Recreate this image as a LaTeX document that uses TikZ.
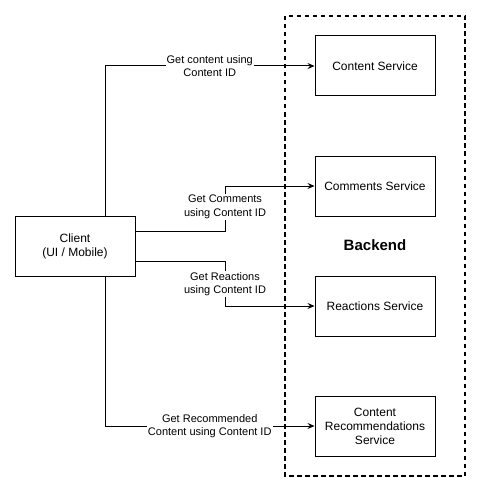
\documentclass[tikz,border=0pt]{standalone}
\usepackage{fontspec}
\setmainfont{Liberation Sans}
\usetikzlibrary{arrows.meta}
\begin{document}
\begin{tikzpicture}[x=1pt,y=-1pt,
  box/.style={draw,line width=1pt,minimum width=120pt,minimum height=60pt,align=center,font=\fontsize{12}{14}\selectfont,inner sep=0pt},
  conn/.style={line width=1pt,-{Stealth[length=7pt,width=6pt,inset=2.5pt]}},
  lbl/.style={fill=white,align=center,font=\fontsize{11}{13.5}\selectfont,inner sep=1pt}]
\useasboundingbox (0,0) rectangle (482,492);
\draw[line width=2pt,dash pattern=on 4.5pt off 3.5pt] (285,16) rectangle (465,476);
\node[box] (client) at (75,246) {Client\\(UI / Mobile)};
\node[box] (cs) at (375,66) {Content Service};
\node[box] (cms) at (375,186) {Comments Service};
\node[box] (rs) at (375,306) {Reactions Service};
\node[box] (crs) at (375,426) {Content\\Recommendations\\Service};
\node[font=\bfseries\fontsize{15}{18}\selectfont] (be) at (375,245) {Backend};
\coordinate (c1) at (105,276);
\draw[conn] (client.north -| c1) |- (cs.west) node[lbl,pos=0.75] {Get content using\\Content ID};
\draw[conn] (client.east |- 0,231) -| (225,186) -- (cms.west |- 0,186);
\node[lbl] (l2) at (225,207) {Get Comments\\using Content ID};
\draw[conn] (client.east |- 0,261) -| (225,306) -- (rs.west |- 0,306);
\node[lbl] (l3) at (225,284) {Get Reactions\\using Content ID};
\draw[conn] (client.south -| c1) |- (crs.west) node[lbl,pos=0.75] {Get Recommended\\Content using Content ID};
\end{tikzpicture}
\end{document}
